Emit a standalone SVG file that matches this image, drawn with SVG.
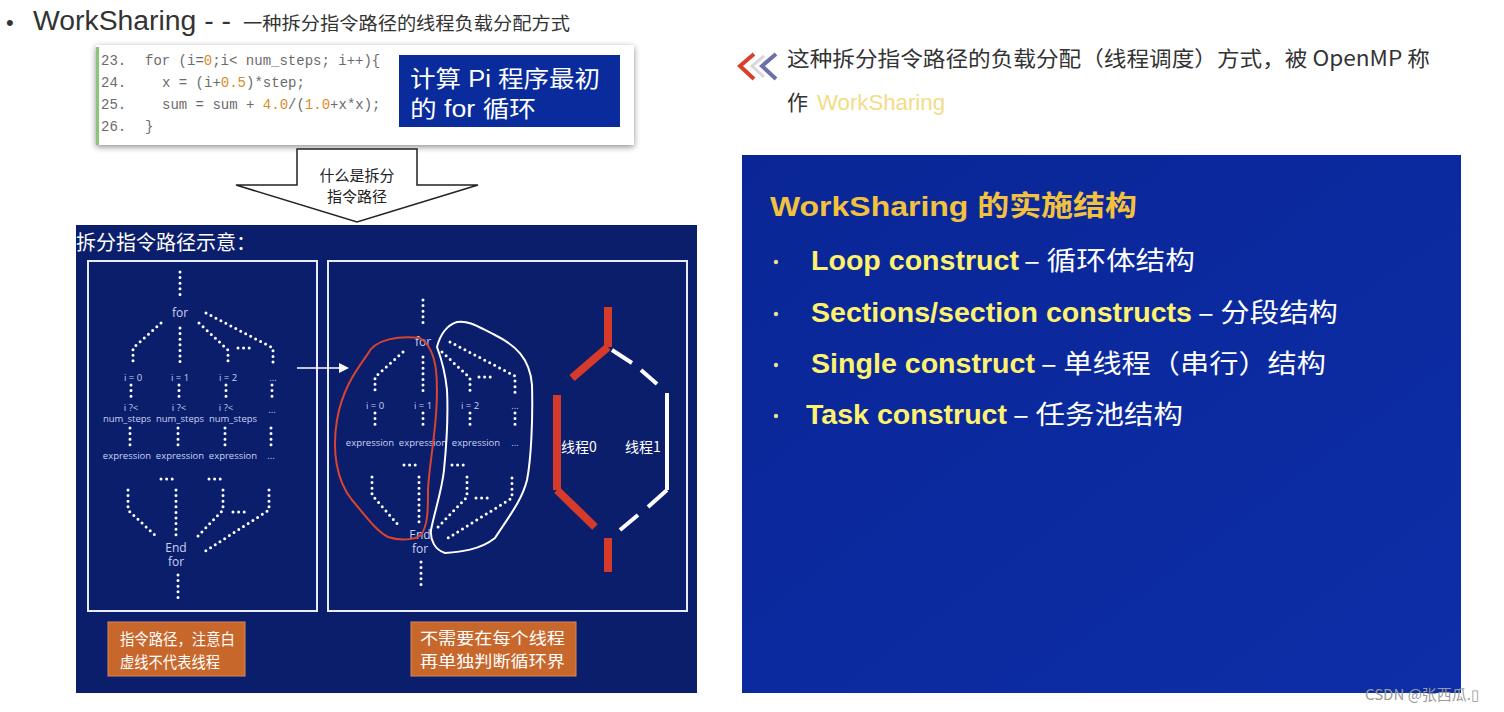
<svg xmlns="http://www.w3.org/2000/svg" width="1504" height="712" viewBox="0 0 1504 712">
<defs>
<style>
.sans{font-family:"Liberation Sans","Noto Sans CJK SC",sans-serif}
.cjk{font-family:"Noto Sans CJK SC","Liberation Sans",sans-serif}
.mono{font-family:"Liberation Mono",monospace;font-size:14px;fill:#6b6b6b}
.num{fill:#d98a2a}
.dot{stroke:#ffffff;stroke-width:3;stroke-linecap:round;stroke-dasharray:0 5.6;fill:none}
.lbl{font-family:"Open Sans","Liberation Sans",sans-serif;font-size:9.5px;fill:#c9d2f2;text-anchor:middle}
.big{font-family:"Open Sans","Liberation Sans",sans-serif;font-size:12px;fill:#c9d2f2;text-anchor:middle}
.frame{fill:none;stroke:#e8ecf8;stroke-width:2}
.org{fill:#c8672c;stroke:#d98a55;stroke-width:1}
.orgt{font-family:"Noto Sans CJK SC",sans-serif;font-size:16px;fill:#ffffff}
.red{stroke:#d63a2a;stroke-width:8;fill:none}
.wht{stroke:#ffffff;stroke-width:4;fill:none}
.item{font-family:"Liberation Sans","Noto Sans CJK SC",sans-serif;font-size:27px;font-weight:bold;fill:#fff36e}
.itemc{font-family:"Noto Sans CJK SC","Liberation Sans",sans-serif;font-size:26px;fill:#ffffff}
</style>
<linearGradient id="rg" x1="0" y1="0" x2="1" y2="1">
<stop offset="0" stop-color="#0a2696"/>
<stop offset="1" stop-color="#0d2ea8"/>
</linearGradient>
<filter id="sh" x="-5%" y="-10%" width="110%" height="125%">
<feGaussianBlur in="SourceAlpha" stdDeviation="3"/>
<feOffset dx="0" dy="2"/>
<feComponentTransfer><feFuncA type="linear" slope="0.45"/></feComponentTransfer>
<feMerge><feMergeNode/><feMergeNode in="SourceGraphic"/></feMerge>
</filter>
</defs>
<rect width="1504" height="712" fill="#ffffff"/>

<g id="title">
<text x="6" y="30" class="sans" font-size="22" fill="#333">•</text>
<text x="33" y="30" class="sans" font-size="27" fill="#333" textLength="198" lengthAdjust="spacingAndGlyphs">WorkSharing - -</text>
<text x="243" y="30" class="cjk" font-size="18" fill="#333" textLength="327" lengthAdjust="spacingAndGlyphs">一种拆分指令路径的线程负载分配方式</text>
</g>

<g id="code">
<rect x="96" y="45" width="538" height="100" fill="#ffffff" filter="url(#sh)"/>
<rect x="96" y="47" width="3" height="98" fill="#8cc47a"/>
<text x="101" y="65" class="mono">23.</text>
<text x="101" y="87" class="mono">24.</text>
<text x="101" y="109" class="mono">25.</text>
<text x="101" y="131" class="mono">26.</text>
<text x="145" y="65" class="mono">for (i=<tspan class="num">0</tspan>;i&lt; num_steps; i++){</text>
<text x="162" y="87" class="mono">x = (i+<tspan class="num">0.5</tspan>)*step;</text>
<text x="162" y="109" class="mono">sum = sum + <tspan class="num">4.0</tspan>/(<tspan class="num">1.0</tspan>+x*x);</text>
<text x="145" y="131" class="mono">}</text>
<rect x="399" y="55" width="221" height="72" fill="#0a2b9b"/>
<text x="410" y="87" class="sans" font-size="23" fill="#fff" textLength="190" lengthAdjust="spacingAndGlyphs">计算 Pi 程序最初</text>
<text x="410" y="117" class="sans" font-size="23" fill="#fff" textLength="126" lengthAdjust="spacingAndGlyphs">的 for 循环</text>
</g>

<g id="down-arrow">
<polygon points="297,149 417,149 417,185 478,185 357,222 236,185 297,185" fill="#ffffff" stroke="#222" stroke-width="1.5"/>
<text x="357" y="181" class="cjk" font-size="15" fill="#222" text-anchor="middle">什么是拆分</text>
<text x="357" y="202" class="cjk" font-size="15" fill="#222" text-anchor="middle">指令路径</text>
</g>

<g id="left-panel">
<rect x="76" y="225" width="621" height="468" fill="#0b1e6c"/>
<text x="76" y="250" class="cjk" font-size="20" fill="#ffffff">拆分指令路径示意：</text>
<rect x="88" y="261" width="229" height="350" class="frame"/>
<rect x="328" y="261" width="359" height="350" class="frame"/>
</g>

<g id="path-diagram-1">
<path class="dot" d="M180,272 V298 M161,323 L133,348 V366 M180,328 V366 M199,323 L228,350 V366 M206,313 L273,348 V366 M238,348 H250"/>
<text x="180" y="317" class="big">for</text>
<text x="133" y="381" class="lbl">i = 0</text>
<text x="180" y="381" class="lbl">i = 1</text>
<text x="228" y="381" class="lbl">i = 2</text>
<text x="273" y="381" class="lbl">...</text>
<path class="dot" d="M131,385 V401 M179,385 V401 M226,385 V401 M272,385 V401"/>
<text x="131" y="411" class="lbl">i ?&lt;</text>
<text x="179" y="411" class="lbl">i ?&lt;</text>
<text x="226" y="411" class="lbl">i ?&lt;</text>
<text x="272" y="413" class="lbl">...</text>
<text x="127" y="422" class="lbl">num_steps</text>
<text x="180" y="422" class="lbl">num_steps</text>
<text x="233" y="422" class="lbl">num_steps</text>
<path class="dot" d="M130,428 V446 M178,428 V446 M225,428 V446 M271,428 V446"/>
<text x="127" y="459" class="lbl">expression</text>
<text x="180" y="459" class="lbl">expression</text>
<text x="233" y="459" class="lbl">expression</text>
<text x="271" y="459" class="lbl">...</text>
<path class="dot" d="M161,479 H173 M209,479 H221"/>
<path class="dot" d="M128,490 V510 L158,538 M176,490 V535 M223,490 V510 L196,538 M269,490 V510 L204,552 M233,512 H245"/>
<text x="176" y="552" class="big">End</text>
<text x="176" y="566" class="big">for</text>
<path class="dot" d="M178,575 V602"/>
</g>

<g id="connectors">
<line x1="297" y1="368" x2="340" y2="368" stroke="#ffffff" stroke-width="1.5"/>
<polygon points="349,368 339,363 339,373" fill="#ffffff"/>
</g>

<g id="path-diagram-2">
<path class="dot" d="M423,300 V325 M403,352 L375,377 V393 M423,357 V393 M442,352 L470,378 V393 M450,342 L515,376 V393 M479,377 H491"/>
<text x="423" y="346" class="big">for</text>
<text x="375" y="409" class="lbl">i = 0</text>
<text x="423" y="409" class="lbl">i = 1</text>
<text x="470" y="409" class="lbl">i = 2</text>
<text x="515" y="409" class="lbl">...</text>
<path class="dot" d="M375,413 V429 M423,413 V429 M470,413 V429 M515,413 V429"/>
<text x="370" y="446" class="lbl">expression</text>
<text x="423" y="446" class="lbl">expression</text>
<text x="476" y="446" class="lbl">expression</text>
<text x="515" y="446" class="lbl">...</text>
<path class="dot" d="M404,465 H416 M452,465 H464"/>
<path class="dot" d="M372,477 V495 L400,527 M419,477 V522 M467,477 V497 L438,527 M512,478 V498 L448,538 M476,498 H488"/>
<text x="420" y="539" class="big">End</text>
<text x="420" y="553" class="big">for</text>
<path class="dot" d="M421,562 V588"/>
<path d="M420,338 C400,336 375,338 367,355 C355,372 342,390 337,420 C332,450 336,480 352,500 C365,515 375,530 388,537 C400,541 415,540 421,535 C428,525 428,510 428,490 C429,470 432,455 434,435 C437,410 438,390 436,370 C434,355 428,343 420,338 Z" fill="none" stroke="#d9442e" stroke-width="2"/>
<path d="M437,347 C440,335 447,325 457,322 C470,320 480,328 495,335 C515,345 530,358 532,385 C533,420 531,460 527,480 C522,500 510,515 495,538 C480,550 460,552 445,553 C435,550 430,540 431,530 C435,510 442,490 444,470 C447,440 448,410 447,390 C445,370 440,355 437,347 Z" fill="none" stroke="#ffffff" stroke-width="2"/>
</g>

<g id="threads">
<path class="red" d="M608,307 V347 M608,347 L572,378 M557,395 V490 M557,490 L595,527 M608,538 V572"/>
<path class="wht" d="M612,350 L632,363 M641,370 L657,384 M667,393 V490 M667,490 L648,507 M638,515 L620,530"/>
<text x="579" y="452" class="cjk" font-size="14" fill="#ffffff" text-anchor="middle">线程0</text>
<text x="643" y="452" class="cjk" font-size="14" fill="#ffffff" text-anchor="middle">线程1</text>
</g>

<g id="note-1">
<rect x="108" y="622" width="137" height="54" class="org"/>
<text x="120" y="645" class="orgt" textLength="115" lengthAdjust="spacingAndGlyphs">指令路径，注意白</text>
<text x="120" y="668" class="orgt" textLength="100" lengthAdjust="spacingAndGlyphs">虚线不代表线程</text>
</g>

<g id="note-2">
<rect x="411" y="622" width="165" height="54" class="org"/>
<text x="420" y="644" class="orgt" textLength="145" lengthAdjust="spacingAndGlyphs">不需要在每个线程</text>
<text x="420" y="667" class="orgt" textLength="145" lengthAdjust="spacingAndGlyphs">再单独判断循环界</text>
</g>

<g id="intro">
<polyline points="754,54 740,66 754,79" fill="none" stroke="#d8402c" stroke-width="4"/>
<polyline points="764,56 752,66 764,77" fill="none" stroke="#d7d7de" stroke-width="3"/>
<polyline points="776,54 762,66 776,79" fill="none" stroke="#6f6fa8" stroke-width="4"/>
<text x="787" y="66" class="cjk" font-size="21" fill="#333" textLength="643" lengthAdjust="spacingAndGlyphs">这种拆分指令路径的负载分配（线程调度）方式，被 OpenMP 称</text>
<text x="787" y="110" class="cjk" font-size="21" fill="#333">作</text>
<text x="817" y="110" class="sans" font-size="22" fill="#f3dc86" textLength="128" lengthAdjust="spacingAndGlyphs">WorkSharing</text>
</g>

<g id="right-panel">
<rect x="742" y="155" width="719" height="538" fill="url(#rg)"/>
<text x="770" y="216" class="sans" font-size="28" font-weight="bold" fill="#f2c23e" textLength="367" lengthAdjust="spacingAndGlyphs">WorkSharing 的实施结构</text>
<g fill="#e9e28a">
<circle cx="776" cy="262" r="2.2"/>
<circle cx="776" cy="314" r="2.2"/>
<circle cx="776" cy="365" r="2.2"/>
<circle cx="776" cy="416" r="2.2"/>
</g>
<text x="811" y="270" class="item" textLength="208" lengthAdjust="spacingAndGlyphs">Loop construct</text>
<text x="1024" y="270" class="itemc" textLength="171" lengthAdjust="spacingAndGlyphs">– 循环体结构</text>
<text x="811" y="322" class="item" textLength="381" lengthAdjust="spacingAndGlyphs">Sections/section constructs</text>
<text x="1198" y="322" class="itemc" textLength="140" lengthAdjust="spacingAndGlyphs">– 分段结构</text>
<text x="811" y="373" class="item" textLength="224" lengthAdjust="spacingAndGlyphs">Single construct</text>
<text x="1041" y="373" class="itemc" textLength="285" lengthAdjust="spacingAndGlyphs">– 单线程（串行）结构</text>
<text x="806" y="424" class="item" textLength="201" lengthAdjust="spacingAndGlyphs">Task construct</text>
<text x="1013" y="424" class="itemc" textLength="170" lengthAdjust="spacingAndGlyphs">– 任务池结构</text>
</g>

<g id="watermark">
<text x="1365" y="700" class="cjk" font-size="15" fill="#9a9a9a">CSDN @张西瓜.▯</text>
</g>
</svg>
